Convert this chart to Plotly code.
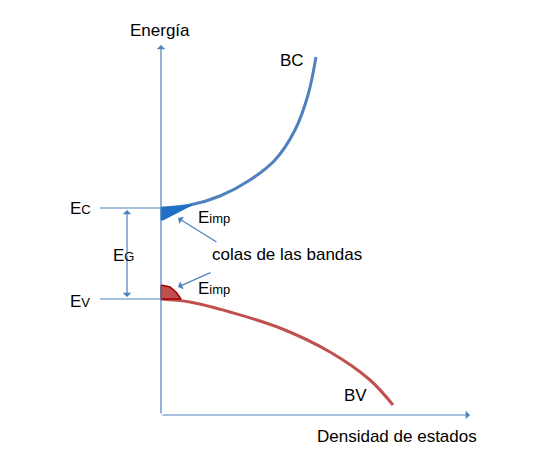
import plotly.graph_objects as go

# diagram coordinates (pixel-like units, y grows downward)
bc_x = [161, 190, 220, 250, 275, 295, 308, 316]
bc_y = [208, 205, 196, 180, 160, 130, 95, 57]
bv_x = [161, 190, 230, 280, 330, 370, 393]
bv_y = [299, 302, 312, 328, 352, 380, 405]
tail_c_x = [161, 192, 163, 161, 161]
tail_c_y = [208, 205, 220, 220, 208]
tail_v_x = [161, 170, 176, 181, 161, 161]
tail_v_y = [285, 287, 292, 299, 299, 285]
ec_y, ev_y = 208, 299

blue = '#4F81BD'
red = '#C0504D'
font = dict(family='Liberation Sans, Arial', size=17, color='black')

fig = go.Figure()
fig.add_trace(go.Scatter(x=bc_x, y=bc_y, mode='lines', line=dict(color=blue, width=3, shape='spline')))
fig.add_trace(go.Scatter(x=bv_x, y=bv_y, mode='lines', line=dict(color=red, width=3, shape='spline')))
fig.add_trace(go.Scatter(x=tail_c_x, y=tail_c_y, mode='lines', fill='toself',
                         fillcolor='#1F6FC5', line=dict(color='#1F6FC5', width=1)))
fig.add_trace(go.Scatter(x=tail_v_x, y=tail_v_y, mode='lines', fill='toself',
                         fillcolor='#C0504D', line=dict(color='#A00000', width=1.5)))

line = dict(color=blue, width=1.2)
fig.add_shape(type='line', x0=100, x1=161, y0=ec_y, y1=ec_y, line=line)
fig.add_shape(type='line', x0=100, x1=161, y0=ev_y, y1=ev_y, line=line)

def arrow(x0, y0, x1, y1):
    fig.add_annotation(x=x1, y=y1, ax=x0, ay=y0, xref='x', yref='y', axref='x', ayref='y',
                       text='', showarrow=True, arrowhead=1, arrowsize=1.2, arrowwidth=1.2,
                       arrowcolor=blue)

arrow(161, 415, 161, 45)
arrow(161, 415, 470, 415)
arrow(127, 254, 127, 210)
arrow(127, 254, 127, 297)
arrow(218, 243, 178, 218)
arrow(212, 272, 178, 287)

labels = [
    (160, 30, 'Energía'), (292, 60, 'BC'), (355, 395, 'BV'),
    (397, 436, 'Densidad de estados'), (287, 254, 'colas de las bandas'),
    (80, 208, 'E<span style="font-size:13px">C</span>'),
    (80, 301, 'E<span style="font-size:13px">V</span>'),
    (123, 255, 'E<span style="font-size:13px">G</span>'),
    (214, 217, 'E<span style="font-size:13px">imp</span>'),
    (214, 288, 'E<span style="font-size:13px">imp</span>'),
]
for x, y, t in labels:
    fig.add_annotation(x=x, y=y, text=t, showarrow=False, font=font, xref='x', yref='y')

fig.update_layout(width=554, height=473, margin=dict(l=0, r=0, t=0, b=0),
                  plot_bgcolor='white', paper_bgcolor='white', showlegend=False,
                  xaxis=dict(range=[8, 562], visible=False),
                  yaxis=dict(range=[481, 8], visible=False))
fig.write_html("out.html")
